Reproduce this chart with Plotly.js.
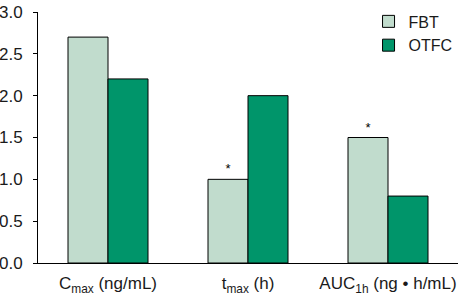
<!DOCTYPE html>
<html>
<head>
<meta charset="utf-8">
<script src="https://cdn.plot.ly/plotly-3.0.1.min.js"></script>
<style>html,body{margin:0;padding:0;background:#fff;}#chart{width:462px;height:298px;}</style>
</head>
<body>
<div id="chart"></div>
<script>
const categories = ["C<sub>max</sub> (ng/mL)", "t<sub>max</sub> (h)", "AUC<sub>1h</sub> (ng \u2022 h/mL)"];
const fbtValues = [2.7, 1.0, 1.5];
const otfcValues = [2.2, 2.0, 0.8];
const fbtMarks = ["", "*", "*"];
const yTicks = [0, 0.5, 1.0, 1.5, 2.0, 2.5, 3.0];
const yTickLabels = ["0.0", "0.5", "1.0", "1.5", "2.0", "2.5", "3.0"];

const traces = [
  {
    type: "bar", name: "FBT", x: categories, y: fbtValues,
    text: fbtMarks, textposition: "outside", cliponaxis: false,
    textfont: {family: "Liberation Sans, Arial, sans-serif", size: 13, color: "#000"},
    marker: {color: "#c1dccd", line: {color: "#000", width: 1}}
  },
  {
    type: "bar", name: "OTFC", x: categories, y: otfcValues,
    marker: {color: "#00956a", line: {color: "#000", width: 1}}
  }
];

const layout = {
  width: 462, height: 298,
  margin: {l: 38, r: 4, t: 8, b: 35},
  paper_bgcolor: "#fff", plot_bgcolor: "#fff",
  barmode: "group", bargap: 0.4286, bargroupgap: 0,
  font: {family: "Liberation Sans, Arial, sans-serif", size: 17, color: "#1a1a1a"},
  showlegend: true,
  legend: {x: 0.787, xanchor: "left", y: 1.03, yanchor: "top", bgcolor: "rgba(0,0,0,0)",
           font: {size: 16}, itemwidth: 30, tracegroupgap: 0},
  xaxis: {
    showline: true, linecolor: "#000", linewidth: 1,
    ticks: "", showgrid: false, zeroline: false,
    tickfont: {size: 17}, ticklabelstandoff: 5, automargin: false
  },
  yaxis: {
    range: [0, 3.0], tickvals: yTicks, ticktext: yTickLabels,
    showline: true, linecolor: "#000", linewidth: 1,
    ticks: "outside", ticklen: 4, tickcolor: "#000", tickwidth: 1,
    showgrid: false, zeroline: false, tickfont: {size: 17},
    ticklabelstandoff: 7, automargin: false
  }
};

Plotly.newPlot("chart", traces, layout, {displayModeBar: false, staticPlot: true});
</script>
</body>
</html>
